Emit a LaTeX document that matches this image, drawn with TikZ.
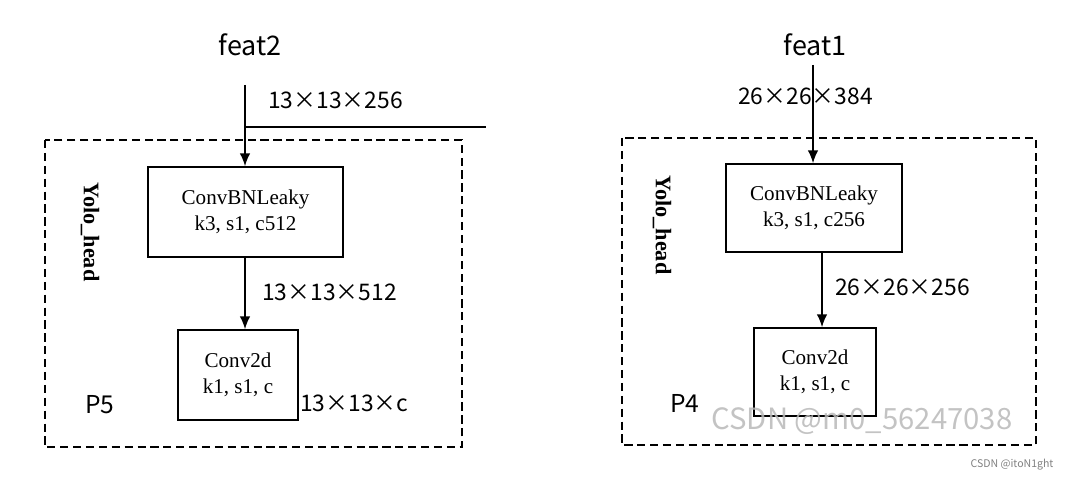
\documentclass[tikz,border=0pt]{standalone}
\usepackage{fontspec}
\usetikzlibrary{arrows.meta}
\setmainfont{Liberation Serif}
\newfontfamily\cjk{Noto Sans CJK SC}
\begin{document}
\begin{tikzpicture}[x=0.03cm,y=-0.03cm,
  blk/.style={draw,line width=1.3pt,align=center,font=\fontsize{18}{22}\selectfont,inner sep=0pt},
  dbox/.style={draw,line width=1.3pt,dash pattern=on 7pt off 4pt},
  lab/.style={font=\cjk\fontsize{19.5}{21}\selectfont,anchor=west,inner sep=0pt},
  arr/.style={line width=1.4pt,-{Latex[length=11pt,width=9pt]}},
  yh/.style={rotate=-90,font=\bfseries\fontsize{19}{22}\selectfont}]
\useasboundingbox (0,0) rectangle (1074,481);
% left
\draw[dbox] (45,140) rectangle (462,447);
\node[blk,minimum width=195*0.03cm,minimum height=90*0.03cm] (c1) at (245.5,212) {ConvBNLeaky\\k3, s1, c512};
\node[blk,minimum width=120*0.03cm,minimum height=90*0.03cm] (d1) at (238,375) {Conv2d\\k1, s1, c};
\node[font=\cjk\fontsize{23}{25}\selectfont] (f2) at (250,45) {feat2};
\coordinate (f2s) at (245,85);
\coordinate (j1) at (245,127);
\coordinate (e1) at (486,127);
\draw[arr] (f2s) -- (c1.north -| f2s);
\draw[line width=1.4pt] (j1) -- (e1);
\node[lab] (l1) at (268,100) {13×13×256};
\draw[arr] (c1.south -| f2s) -- (d1.north -| f2s);
\node[lab] (l2) at (262,292) {13×13×512};
\node[lab] (l3) at (300,403) {13×13×c};
\node[yh] (y1) at (90,232) {Yolo\_head};
\node[font=\cjk\fontsize{21}{23}\selectfont] (p5) at (100,405) {P5};
% right
\draw[dbox] (622,138) rectangle (1036,445);
\node[blk,minimum width=176*0.03cm,minimum height=88*0.03cm] (c2) at (814,208) {ConvBNLeaky\\k3, s1, c256};
\node[blk,minimum width=122*0.03cm,minimum height=88*0.03cm] (d2) at (815,372) {Conv2d\\k1, s1, c};
\node[font=\cjk\fontsize{23}{25}\selectfont] (f1) at (815,45) {feat1};
\coordinate (f1s) at (813,65);
\coordinate (m2) at (822,252);
\draw[arr] (f1s) -- (c2.north -| f1s);
\node[lab] (l4) at (738,96) {26×26×384};
\draw[arr] (m2) -- (d2.north -| m2);
\node[lab] (l5) at (835,287) {26×26×256};
\node[yh] (y2) at (662,225) {Yolo\_head};
\node[font=\cjk\fontsize{21}{23}\selectfont] (p4) at (685,403) {P4};
\node[font=\cjk\fontsize{25}{27}\selectfont,text=gray!55,opacity=0.85] (wm) at (862,421) {CSDN @m0\_56247038};
\node[font=\cjk\fontsize{9}{10}\selectfont,text=gray] (wm2) at (1012,465) {CSDN @itoN1ght};
\end{tikzpicture}
\end{document}
